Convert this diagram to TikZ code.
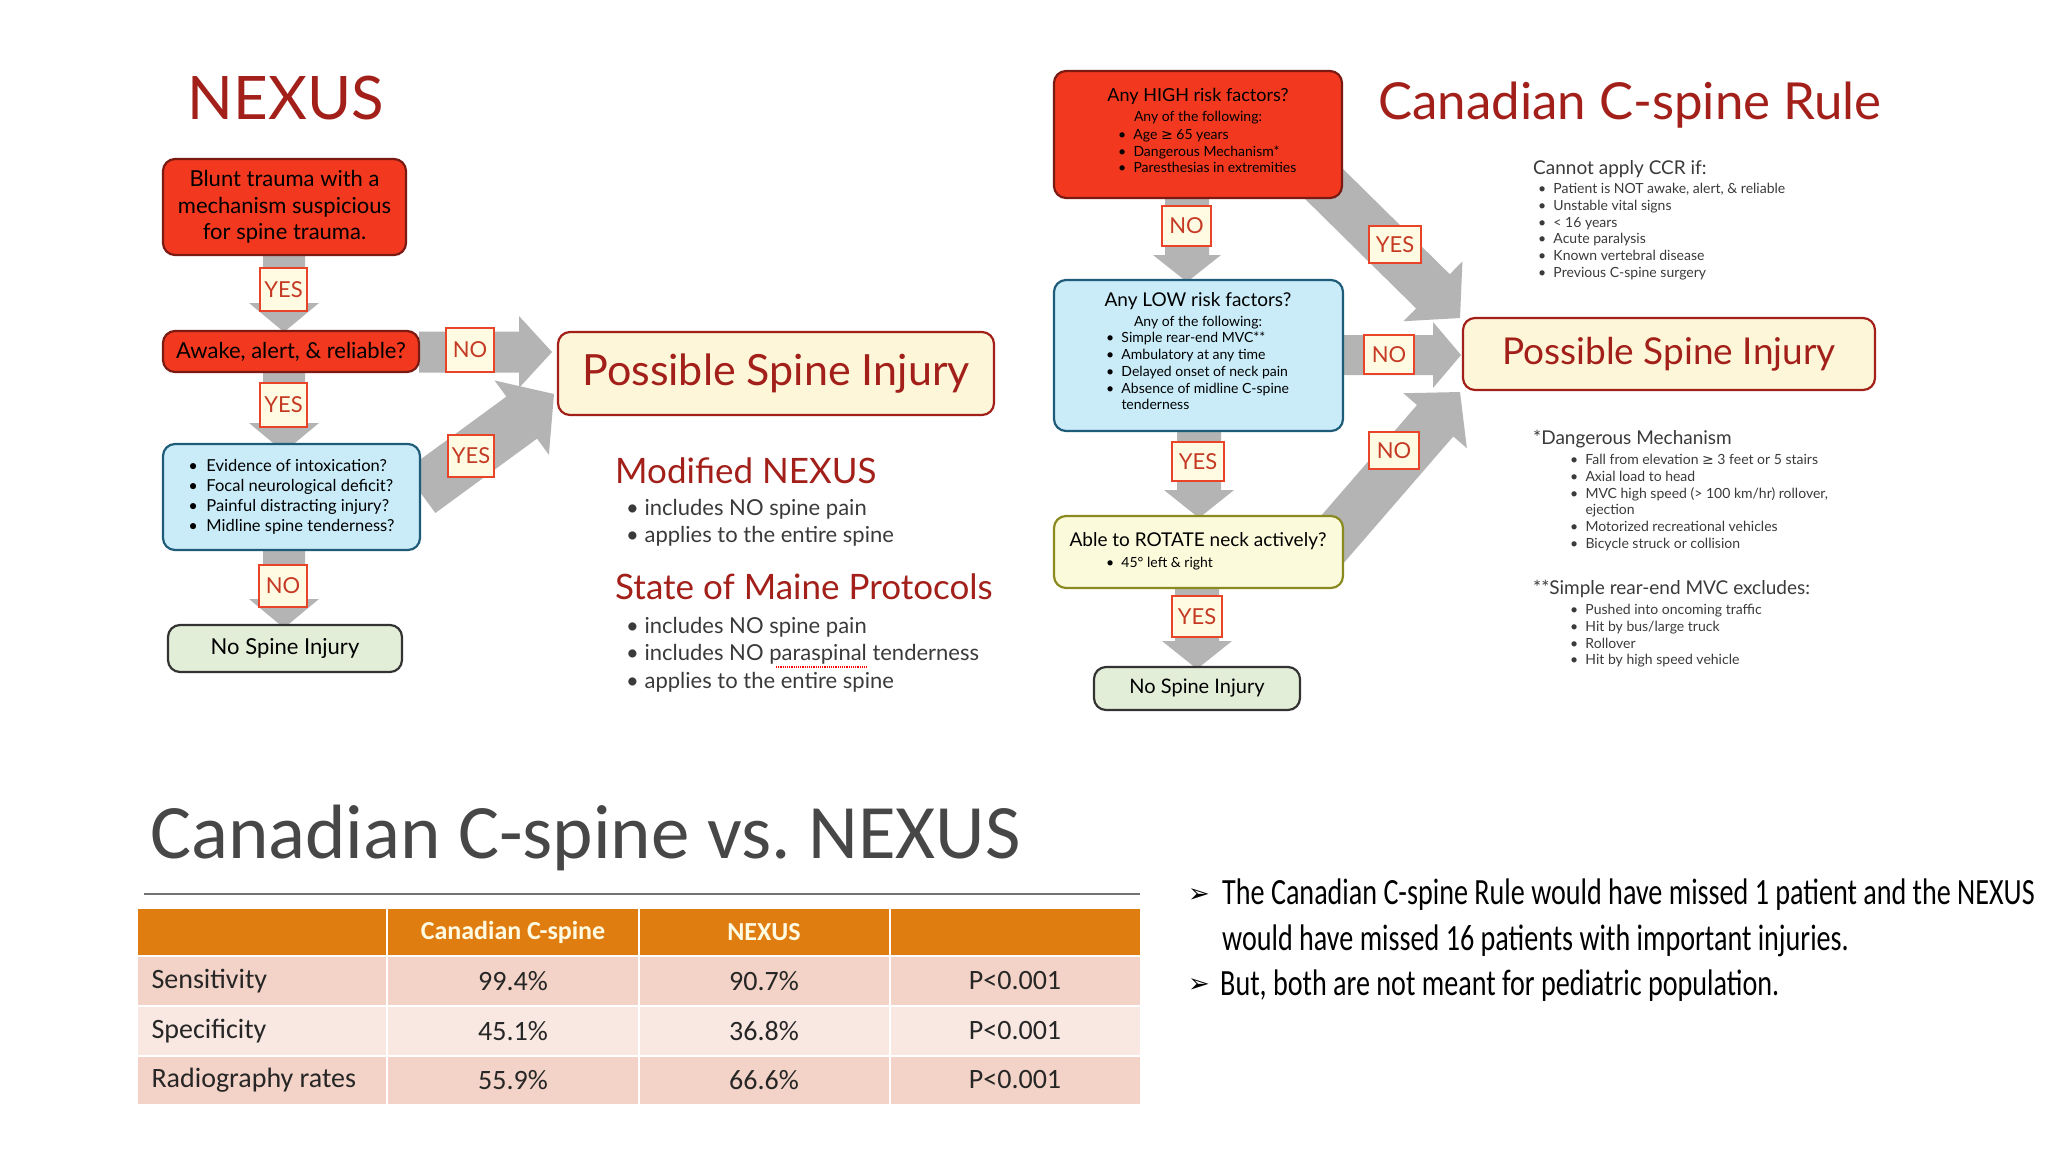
\documentclass[tikz,border=0pt]{standalone}
\usepackage{fontspec}
\setmainfont{Lato}
\newfontfamily\carl{Carlito}
\newfontfamily\dv{DejaVu Sans}
\usetikzlibrary{calc,backgrounds}
\definecolor{nred}{HTML}{F2391F}
\definecolor{nredb}{HTML}{7A1A12}
\definecolor{dred}{HTML}{A3201A}
\definecolor{lblue}{HTML}{C9ECF8}
\definecolor{lblueb}{HTML}{1E5C7A}
\definecolor{lyel}{HTML}{FBFADB}
\definecolor{lyelb}{HTML}{8A8A20}
\definecolor{lgrn}{HTML}{E2EED8}
\definecolor{cream}{HTML}{FDF6D8}
\definecolor{lab}{HTML}{FFFBE2}
\definecolor{labb}{HTML}{E8442A}
\definecolor{agray}{HTML}{B4B4B4}
\definecolor{orng}{HTML}{E07D10}
\definecolor{rowa}{HTML}{F3D3C7}
\definecolor{rowb}{HTML}{F9E8E2}
\definecolor{txtg}{HTML}{3A3A3A}
\newcommand\fs[1]{\fontsize{#1}{\the\dimexpr #1pt*12/10\relax}\selectfont}
\newcommand\garrow[5]{%
  \path let \p1=(#1),\p2=(#2) in \pgfextra{%
    \pgfmathsetmacro\gax{\x1}\pgfmathsetmacro\gay{\y1}%
    \pgfmathsetmacro\gang{atan2(\y2-\y1,\x2-\x1)}%
    \pgfmathsetmacro\glen{veclen(\x2-\x1,\y2-\y1)}%
    \xdef\gax{\gax}\xdef\gay{\gay}\xdef\gang{\gang}\xdef\glen{\glen}};
  \fill[agray,shift={(\gax pt,\gay pt)},rotate=\gang]
    (0,-#3) -- (\glen-#5,-#3) -- (\glen-#5,-#4) -- (\glen,0) -- (\glen-#5,#4) -- (\glen-#5,#3) -- (0,#3) -- cycle;}
\tikzset{
  box/.style={rounded corners=12pt,line width=2.2pt,inner sep=0pt,align=center},
  redbox/.style={box,fill=nred,draw=nredb},
  bluebox/.style={box,fill=lblue,draw=lblueb},
  yelbox/.style={box,fill=lyel,draw=lyelb},
  grnbox/.style={box,fill=lgrn,draw=black!80},
  posbox/.style={box,fill=cream,draw=dred,text=dred},
  lbl/.style={fill=lab,draw=labb,line width=2pt,text=labb!85!black,font=\fs{22},inner sep=0pt},
  txt/.style={anchor=north west,align=left,inner sep=0pt,text=txtg},
}
\begin{document}
\begin{tikzpicture}[x=1pt,y=-1pt]
\useasboundingbox (0,0) rectangle (2048,1152);
\begin{scope}[on background layer]
\fill[white] (0,0) rectangle (2048,1152);
\end{scope}
% ---------- NEXUS ----------
\node[text=dred,font=\fs{60}] (nt) at (286,98) {NEXUS};
\node[redbox,minimum width=243,minimum height=96,font=\fs{22}] (blunt) at (284.5,207) {Blunt trauma with a\\mechanism suspicious\\for spine trauma.};
\node[redbox,minimum width=256,minimum height=41,font=\fs{22}] (awake) at (291,351.5) {Awake, alert, \& reliable?};
\node[bluebox,minimum width=257,minimum height=106,font=\fs{16.5},align=left] (blue) at (291.5,497) {\textbullet\ \ Evidence of intoxication?\\\textbullet\ \ Focal neurological deficit?\\\textbullet\ \ Painful distracting injury?\\\textbullet\ \ Midline spine tenderness?};
\node[grnbox,minimum width=234,minimum height=47,font=\fs{22}] (nsi) at (285,648.5) {No Spine Injury};
\node[posbox,minimum width=436,minimum height=83,font=\fs{43}] (pos) at (776,373.5) {Possible Spine Injury};
\begin{scope}[on background layer]
\garrow{284,250}{284,332}{21}{35}{29}
\garrow{284,372}{284,452}{21}{35}{29}
\garrow{284,550}{284,628}{21}{35}{29}
\garrow{419,352}{552,352}{20.5}{36}{33}
\garrow{420,492}{554,394}{26}{46}{40}
\end{scope}
\node[lbl,minimum width=47,minimum height=43] (y1) at (283.5,289.5) {YES};
\node[lbl,minimum width=47,minimum height=44] (y2) at (283.5,405) {YES};
\node[lbl,minimum width=48,minimum height=42] (n1) at (283,586) {NO};
\node[lbl,minimum width=48,minimum height=44] (n2) at (470,350) {NO};
\node[lbl,minimum width=46,minimum height=42] (y3) at (471,456) {YES};
% Modified NEXUS
\node[txt,text=dred,font=\fs{35}] (mn) at (615,458) {Modified NEXUS};
\node[txt,font=\fs{22},text=txtg] (mnl) at (626,499) {\textbullet\ includes NO spine pain\\[1pt]\textbullet\ applies to the entire spine};
\node[txt,text=dred,font=\fs{35}] (sm) at (615,574) {State of Maine Protocols};
\node[txt,font=\fs{22},text=txtg] (sml) at (626,617) {\textbullet\ includes NO spine pain\\[1pt]\textbullet\ includes NO paraspinal tenderness\\[1pt]\textbullet\ applies to the entire spine};
\draw[red,densely dotted,line width=1.2pt] (776,667) -- (868,667);
% ---------- Canadian ----------
\node[text=dred,font=\fs{51}] (ct) at (1630,105) {Canadian C-spine Rule};
\node[redbox,minimum width=288,minimum height=127,align=left] (high) at (1198,134.5) {};
\node[anchor=north,font=\fs{18},inner sep=0pt] at (1198,88) {Any HIGH risk factors?};
\node[anchor=north,font=\fs{14},inner sep=0pt] at (1198,111) {Any of the following:};
\node[txt,text=black,font=\fs{14}] at (1118,129) {\textbullet\ \ Age {\dv ≥} 65 years\\\textbullet\ \ Dangerous Mechanism*\\\textbullet\ \ Paresthesias in extremities};
\node[bluebox,minimum width=289,minimum height=151] (low) at (1198.5,355.5) {};
\node[anchor=north,font=\fs{19},inner sep=0pt] at (1198,292) {Any LOW risk factors?};
\node[anchor=north,font=\fs{14},inner sep=0pt] at (1198,316) {Any of the following:};
\node[txt,text=black,font=\fs{14}] at (1106,332) {\textbullet\ \ Simple rear-end MVC**\\\textbullet\ \ Ambulatory at any time\\\textbullet\ \ Delayed onset of neck pain\\\textbullet\ \ Absence of midline C-spine\\\phantom{\textbullet\ \ }tenderness};
\node[yelbox,minimum width=289,minimum height=72] (rot) at (1198.5,552) {};
\node[anchor=north,font=\fs{19},inner sep=0pt] at (1198,532) {Able to ROTATE neck actively?};
\node[txt,text=black,font=\fs{14}] at (1106,557) {\textbullet\ \ 45° left \& right};
\node[grnbox,minimum width=206,minimum height=43,font=\fs{20}] (nsi2) at (1197,688.5) {No Spine Injury};
\node[posbox,minimum width=412,minimum height=72,font=\fs{37}] (pos2) at (1669,354) {Possible Spine Injury};
\begin{scope}[on background layer]
\garrow{1187,198}{1187,282}{22}{34}{27}
\garrow{1199,431}{1199,518}{22}{35}{28}
\garrow{1197,588}{1197,669}{22}{35}{28}
\garrow{1343,355}{1461,355}{20}{33}{28}
\garrow{1318,178}{1460,318}{24}{42}{38}
\garrow{1318,556}{1460,392}{24}{42}{38}
\end{scope}
\node[lbl,minimum width=49,minimum height=40] (c1) at (1186.5,226) {NO};
\node[lbl,minimum width=52,minimum height=39] (c2) at (1198,461.5) {YES};
\node[lbl,minimum width=50,minimum height=41] (c3) at (1197,616.5) {YES};
\node[lbl,minimum width=52,minimum height=37] (c4) at (1395,244.5) {YES};
\node[lbl,minimum width=50,minimum height=39] (c5) at (1389,354.5) {NO};
\node[lbl,minimum width=50,minimum height=37] (c6) at (1394,450.5) {NO};
% notes
\node[txt,font=\fs{19}] (ccr) at (1533,160) {Cannot apply CCR if:};
\node[txt,font=\fs{14},text=txtg] (ccrl) at (1538,183) {\textbullet\ \ Patient is NOT awake, alert, \& reliable\\\textbullet\ \ Unstable vital signs\\\textbullet\ \ < 16 years\\\textbullet\ \ Acute paralysis\\\textbullet\ \ Known vertebral disease\\\textbullet\ \ Previous C-spine surgery};
\node[txt,font=\fs{19}] (dm) at (1533,430) {*Dangerous Mechanism};
\node[txt,font=\fs{14},text=txtg] (dml) at (1570,454) {\textbullet\ \ Fall from elevation {\dv ≥} 3 feet or 5 stairs\\\textbullet\ \ Axial load to head\\\textbullet\ \ MVC high speed (> 100 km/hr) rollover,\\\phantom{\textbullet\ \ }ejection\\\textbullet\ \ Motorized recreational vehicles\\\textbullet\ \ Bicycle struck or collision};
\node[txt,font=\fs{19}] (sr) at (1533,580) {**Simple rear-end MVC excludes:};
\node[txt,font=\fs{14},text=txtg] (srl) at (1570,604) {\textbullet\ \ Pushed into oncoming traffic\\\textbullet\ \ Hit by bus/large truck\\\textbullet\ \ Rollover\\\textbullet\ \ Hit by high speed vehicle};
% ---------- bottom ----------
\node[anchor=west,font=\carl\fs{77},text=black!72,inner sep=0pt] (bt) at (150,838) {Canadian C-spine vs.\ NEXUS};
\draw[black!55,line width=2pt] (144,894) -- (1140,894);
\fill[orng] (138,909) rectangle (1140,956);
\fill[rowa] (138,956) rectangle (1140,1006);
\fill[rowb] (138,1006) rectangle (1140,1056);
\fill[rowa] (138,1056) rectangle (1140,1104);
\foreach \xx in {387,639,890} \draw[white,line width=2pt] (\xx,909) -- (\xx,1104);
\foreach \yy in {956,1006,1056} \draw[white,line width=2pt] (138,\yy) -- (1140,\yy);
\node[font=\carl\bfseries\fs{26},text=lab] (h1) at (513,932) {Canadian C-spine};
\node[font=\carl\bfseries\fs{26},text=lab] (h2) at (764,932) {NEXUS};
\foreach \r/\lab/\a/\b in {981/Sensitivity/99.4\%/90.7\%, 1031/Specificity/45.1\%/36.8\%, 1080/Radiography rates/55.9\%/66.6\%}{
  \node[anchor=west,font=\carl\fs{28},text=black!85] at (148,\r) {\lab};
  \node[font=\carl\fs{28},text=black!85] at (513,\r) {\a};
  \node[font=\carl\fs{28},text=black!85] at (764,\r) {\b};
  \node[font=\carl\fs{28},text=black!85] at (1015,\r) {P<0.001};
}
\node[anchor=west,font=\dv\fs{26},inner sep=0pt] (ar1) at (1188,896) {➢};
\node[anchor=west,font=\carl\fs{37},inner sep=0pt,align=left] (bl1) at (1222,918) {\scalebox{0.76}[1]{The Canadian C-spine Rule would have missed 1 patient and the NEXUS}\\[2pt]\scalebox{0.76}[1]{would have missed 16 patients with important injuries.}};
\node[anchor=west,font=\dv\fs{26},inner sep=0pt] (ar2) at (1188,986) {➢};
\node[anchor=west,font=\carl\fs{37},inner sep=0pt] (bl2) at (1220,986) {\scalebox{0.76}[1]{But, both are not meant for pediatric population.}};
\end{tikzpicture}
\end{document}
